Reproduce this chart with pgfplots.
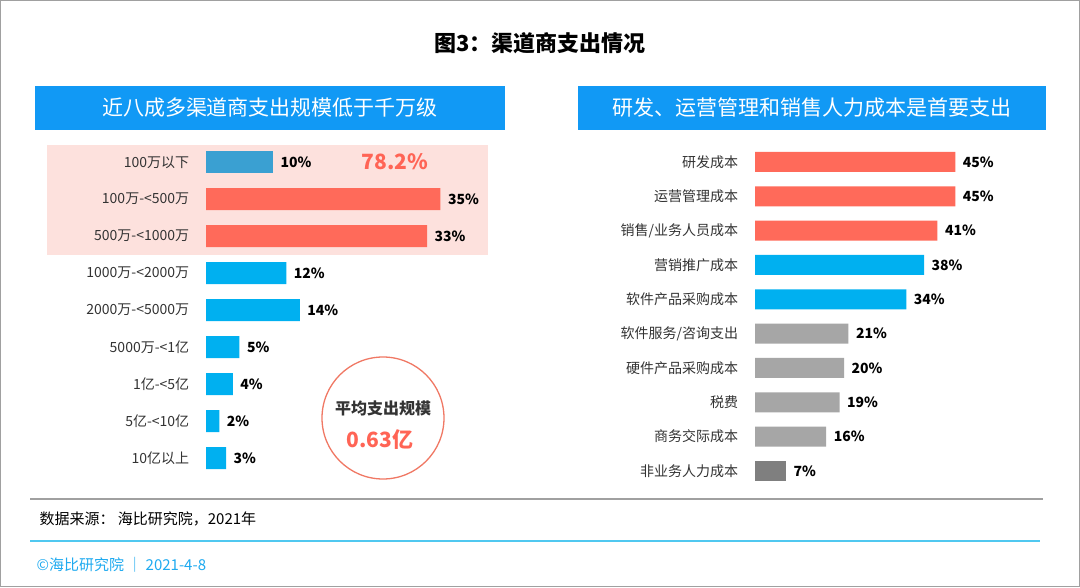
\documentclass[border=0pt]{standalone}
\usepackage{pgfplots}
\pgfplotsset{compat=1.18}
\usepackage{fontspec}
\setmainfont{Noto Sans CJK SC}
\definecolor{barblue}{RGB}{0,176,240}
\definecolor{barred}{RGB}{255,106,90}
\definecolor{firstbar}{RGB}{58,160,210}
\definecolor{pinkbg}{RGB}{253,225,221}
\definecolor{bargrey}{RGB}{166,166,166}
\definecolor{bardark}{RGB}{127,127,127}
\definecolor{headblue}{RGB}{17,153,245}
\definecolor{linegrey}{RGB}{160,160,160}
\definecolor{footline}{RGB}{80,200,240}
\definecolor{foottext}{RGB}{30,170,240}
\definecolor{circred}{RGB}{240,120,100}
\definecolor{redtext}{RGB}{255,100,85}
\definecolor{labgrey}{RGB}{51,51,51}
\newcommand{\fs}[1]{\fontsize{#1}{#1}\selectfont}
\pgfplotsset{
  mybars/.style={
    scale only axis, xbar, bar shift=0pt, y dir=reverse, clip=false,
    axis line style={draw=none}, tick style={draw=none}, xtick=\empty,
    xmin=0,
    /pgf/number format/assume math mode=true,
    yticklabel style={font=\fs{14}, text=labgrey, xshift=-9pt},
    nodes near coords={\pgfmathprintnumber[fixed,precision=0,assume math mode=true]{\pgfplotspointmeta}\%},
    nodes near coords style={font=\fs{14}\bfseries, text=black, anchor=west, xshift=4pt},
    every axis plot/.append style={draw=none},
  }
}
\begin{document}
\begin{tikzpicture}
% canvas
\fill[white] (0pt,0pt) rectangle (1080pt,-587pt);
\draw[linegrey, line width=1pt] (0.5pt,-0.5pt) rectangle (1079.5pt,-586.5pt);
% title
\node[font=\fs{22}\bfseries] at (540pt,-43pt) {图3：渠道商支出情况};
% headers
\fill[headblue] (35pt,-86pt) rectangle (505pt,-130pt);
\fill[headblue] (578pt,-86pt) rectangle (1046pt,-130pt);
\node[font=\fs{21}, text=white] at (270pt,-108pt) {近八成多渠道商支出规模低于千万级};
\node[font=\fs{21}, text=white] at (812pt,-108pt) {研发、运营管理和销售人力成本是首要支出};
% pink highlight
\fill[pinkbg] (47pt,-145pt) rectangle (488pt,-255pt);
% left chart
\begin{axis}[mybars, at={(206pt,-143.5pt)}, anchor=north west,
  width=300pt, height=333pt, xmax=44.78, ymin=-0.5, ymax=8.5,
  bar width=22pt, ytick={0,...,8},
  yticklabels={100万以下,100万-<500万,500万-<1000万,1000万-<2000万,2000万-<5000万,5000万-<1亿,1亿-<5亿,5亿-<10亿,10亿以上}]
\addplot[fill=firstbar] coordinates {(10,0)};
\addplot[fill=barred] coordinates {(35,1) (33,2)};
\addplot[fill=barblue] coordinates {(12,3) (14,4) (5,5) (4,6) (2,7) (3,8)};
\end{axis}
% right chart
\begin{axis}[mybars, at={(755pt,-144.8pt)}, anchor=north west,
  width=300pt, height=343.3pt, xmax=67.4, ymin=-0.5, ymax=9.5,
  bar width=20pt, ytick={0,...,9},
  yticklabels={研发成本,运营管理成本,销售/业务人员成本,营销推广成本,软件产品采购成本,软件服务/咨询支出,硬件产品采购成本,税费,商务交际成本,非业务人力成本}]
\addplot[fill=barred] coordinates {(45,0) (45,1) (41,2)};
\addplot[fill=barblue] coordinates {(38,3) (34,4)};
\addplot[fill=bargrey] coordinates {(21,5) (20,6) (19,7) (16,8)};
\addplot[fill=bardark] coordinates {(7,9)};
\end{axis}
% annotations
\node[font=\fs{21}\bfseries, text=redtext] at (395pt,-162pt) {78.2\%};
\draw[circred, line width=1.3pt] (383pt,-418pt) circle (61pt);
\node[font=\fs{16}\bfseries, text=labgrey] at (383pt,-408pt) {平均支出规模};
\node[font=\fs{21}\bfseries, text=redtext] at (380pt,-440pt) {0.63亿};
% bottom
\draw[linegrey, line width=2pt] (30pt,-499pt) -- (1043pt,-499pt);
\node[font=\fs{15}, anchor=west] at (36pt,-519pt) {数据来源： 海比研究院，2021年};
\draw[footline, line width=1.5pt] (30pt,-541pt) -- (1040pt,-541pt);
\node[font=\fs{15}, text=foottext, anchor=west] at (33pt,-565pt) {©海比研究院 ｜ 2021-4-8};
\end{tikzpicture}
\end{document}
